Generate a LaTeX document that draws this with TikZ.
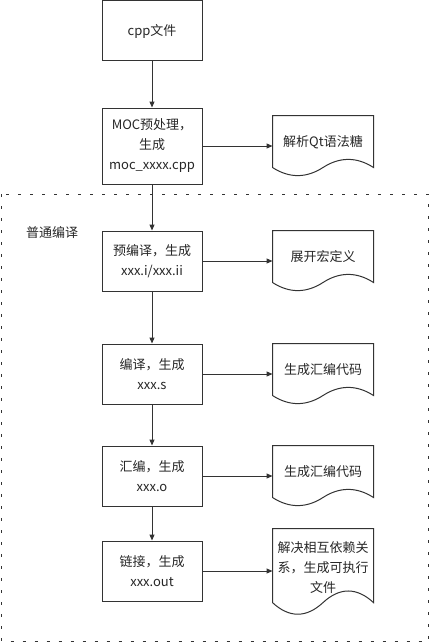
\documentclass[tikz,border=0pt]{standalone}
\usepackage{fontspec}
\setmainfont{Noto Sans CJK SC}
\usetikzlibrary{arrows.meta}
\begin{document}
\begin{tikzpicture}[x=1pt,y=-1pt,
  line/.style={draw=black!80,line width=1pt},
  txt/.style={font=\fontsize{13}{20}\selectfont,text=black!85},
  box/.style={line,txt,minimum width=100pt,minimum height=60pt,align=center,inner sep=2pt},
  doc/.style={box,draw=none,yshift=4pt},
  arr/.style={line,-{Triangle[length=6pt,width=5pt]}}]
\useasboundingbox (0,0) rectangle (429,642);
\draw[line,line width=0.8pt,dash pattern=on 3pt off 9pt] (1.5,194) rectangle (428,641);
\node[txt] (grp) at (52,233) {普通编译};
% main steps
\node[box] (cpp) at (152,31) {cpp文件};
\node[box,minimum height=76pt] (moc) at (152,146) {MOC预处理，\\生成\\moc\_xxxx.cpp};
\node[box] (pre) at (152,261) {预编译，生成\\xxx.i/xxx.ii};
\node[box] (comp) at (152,374) {编译，生成\\xxx.s};
\node[box] (asm) at (152,476) {汇编，生成\\xxx.o};
\node[box] (link) at (152,571) {链接，生成\\xxx.out};
% notes (text sits a little above the middle)
\node[doc] (d1) at (323,146) {解析Qt语法糖};
\node[doc] (d2) at (323,261) {展开宏定义};
\node[doc] (d3) at (323,374) {生成汇编代码};
\node[doc] (d4) at (323,476) {生成汇编代码};
\node[doc,minimum height=86pt] (d5) at (323,572) {解决相互依赖关\\系，生成可执行\\文件};
\foreach \n/\h in {d1/60,d2/60,d3/60,d4/60,d5/86}
  \draw[line] ([yshift=-4pt]\n.north west) -- ([yshift=-4pt]\n.north east) -- ([yshift={0.15*\h-4}]\n.south east)
    .. controls +(-16.67,{-0.18*\h}) and +(16.67,{-0.18*\h}) .. ([yshift={0.15*\h-4}]\n.south)
    .. controls +(-16.67,{0.18*\h}) and +(16.67,{0.18*\h}) .. ([yshift={0.15*\h-4}]\n.south west)
    -- cycle;
\foreach \a/\b in {cpp/moc,moc/pre,pre/comp,comp/asm,asm/link}
  \draw[arr] (\a) -- (\b);
\foreach \a/\b in {moc/d1,pre/d2,comp/d3,asm/d4,link/d5}
  \draw[arr] (\a.east) -- (\a.east -| \b.west);
\end{tikzpicture}
\end{document}
